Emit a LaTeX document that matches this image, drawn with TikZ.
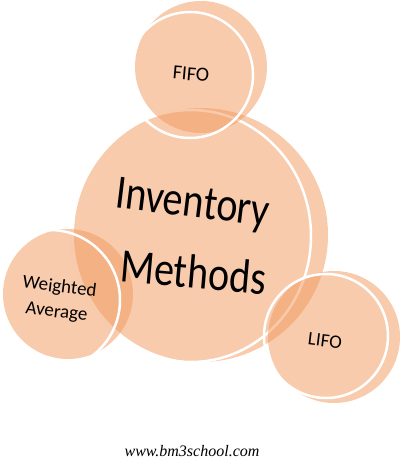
\documentclass[tikz,border=0pt]{standalone}
\usepackage{fontspec}
\setmainfont{Carlito}
\newfontfamily\webfont{Liberation Serif}
\definecolor{peach}{RGB}{241,151,91}
\tikzset{
  disc/.style={fill=peach, fill opacity=0.5},
  rim/.style={draw=white, line width=2.5pt},
  lbl/.style={text=black, inner sep=0pt}
}
\begin{document}
\begin{tikzpicture}[x=1pt,y=-1pt]
\useasboundingbox (0,0) rectangle (402,460);
% centre
\fill[disc] (201,235) circle (127pt);
\draw[rim] (191,236) ellipse (120pt and 126pt);
% weighted average
\fill[disc] (68,294) circle (65pt);
\draw[rim] (50,300) circle (70pt);
% fifo
\fill[disc] (201,67) circle (66pt);
\draw[rim] (190,75) circle (63pt);
% lifo
\fill[disc] (334,337) circle (66pt);
\draw[rim] (326,336) circle (62pt);
% labels
\node[lbl, anchor=base, rotate=-7, yscale=1.2, font=\fontsize{40}{48}\selectfont] (inv) at (191,217) {Inventory};
\node[lbl, anchor=base, rotate=-5, yscale=1.2, font=\fontsize{40}{48}\selectfont] (meth) at (192,288) {Methods};
\node[lbl, rotate=-5, font=\fontsize{20}{24}\selectfont] (fifo) at (191,74) {FIFO};
\node[lbl, rotate=-7, align=center, font=\fontsize{19}{25}\selectfont] (wavg) at (58,300) {Weighted\\Average};
\node[lbl, rotate=-7, font=\fontsize{19}{23}\selectfont] (lifo) at (325,341) {LIFO};
\node[lbl, anchor=base, font=\webfont\itshape\fontsize{16}{19}\selectfont] (web) at (192,456) {www.bm3school.com};
\end{tikzpicture}
\end{document}
